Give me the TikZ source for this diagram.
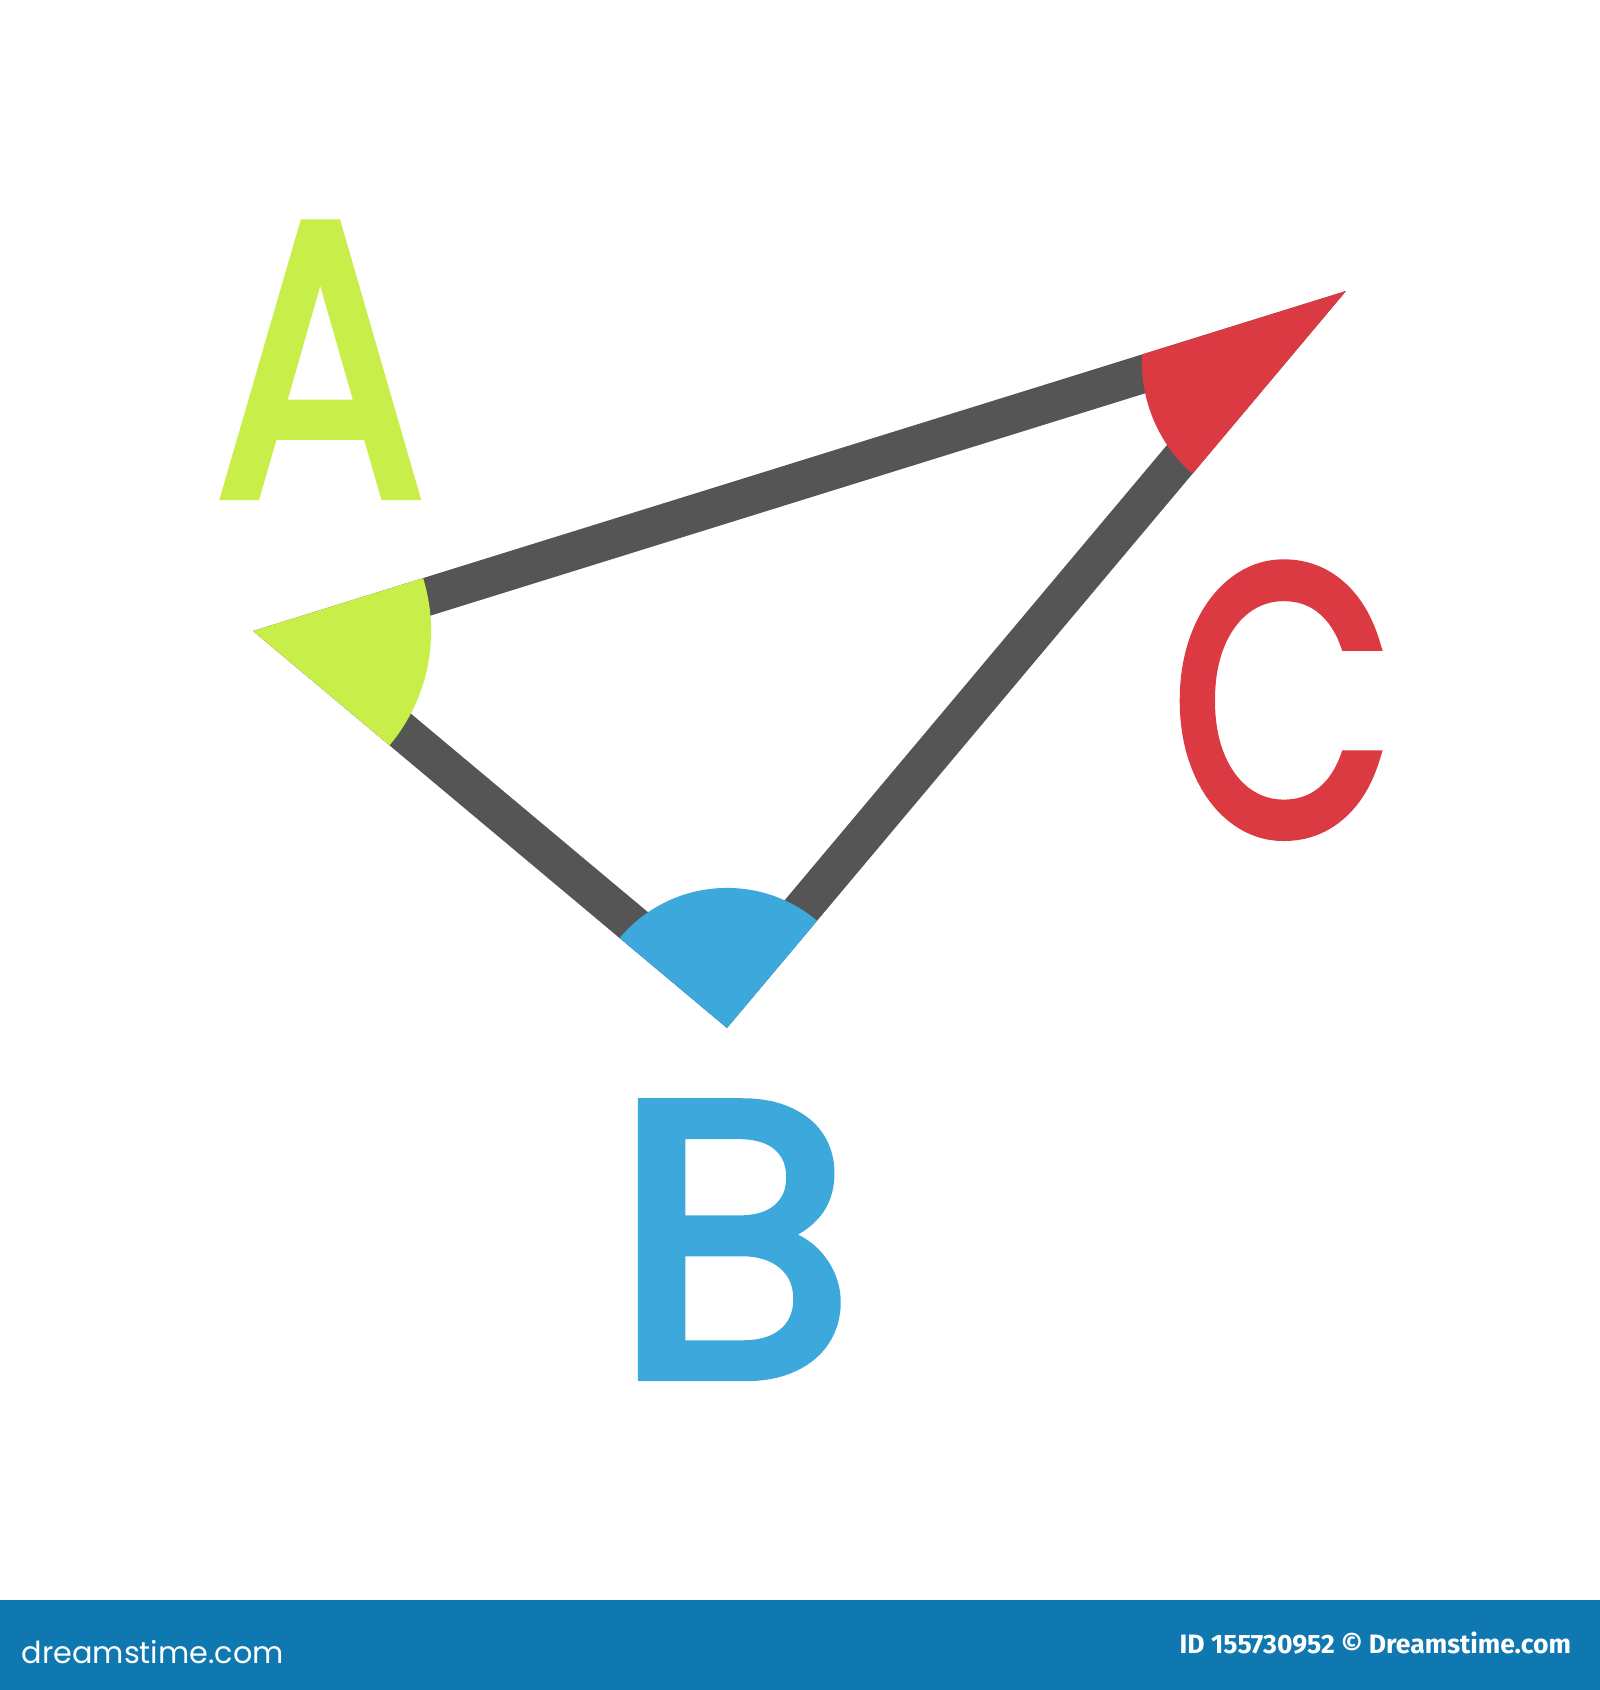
\documentclass[tikz,border=0pt]{standalone}
\usepackage{fontspec}
\usepackage{graphicx}
\setmainfont{Poppins}
\newfontfamily\letterfont{Poppins}[FakeBold=3]
\newfontfamily\idfont{Fira Sans}
\definecolor{limegreen}{RGB}{200,238,74}
\definecolor{anglered}{RGB}{220,58,66}
\definecolor{angleblue}{RGB}{60,168,220}
\definecolor{edgegray}{RGB}{85,85,85}
\definecolor{barblue}{RGB}{16,120,176}

\begin{document}
\begin{tikzpicture}
                \tikzset{x={(0.01cm, 0cm)}, y={(0cm, -0.01cm)}}
                \tikzset{letter/.style={inner sep=0, anchor=south west, font=\letterfont}}
                \useasboundingbox (0, 0) rectangle (1600, 1690);
                \coordinate (A) at ( 253,  631);
                \coordinate (B) at ( 727, 1028);
                \coordinate (C) at (1346,  291);
                \coordinate (Cmark) at (1291, 362);
                \begin{scope}
                    \clip (A) -- (B) -- (C) -- cycle;
                    \draw[line width=0.76cm, draw=edgegray] (A) -- (B) -- (C) -- cycle;
                    \fill[limegreen] (A) circle (1.78cm);
                    \fill[angleblue] (B) circle (1.40cm);
                    \fill[anglered] (Cmark) circle (1.49cm);
                \end{scope}
                \node[letter, text=limegreen] (labelA) at ( 215,  495) {\resizebox*{2.09cm}{2.69cm}{A}};
                \node[letter, text=angleblue] (labelB) at ( 613, 1376) {\resizebox*{2.40cm}{2.71cm}{B}};
                \node[letter, text=anglered]  (labelC) at (1171,  836) {\resizebox*{2.21cm}{2.70cm}{C}};
                \fill[barblue] (0, 1600) rectangle (1600, 1690);
                \node[inner sep=0, anchor=base west, text=white] (logo) at (21, 1663)
                    {\resizebox{2.62cm}{!}{dreamstime.com}};
                \node[inner sep=0, anchor=base west, text=white] (imageid) at (1179, 1653)
                    {\resizebox{3.91cm}{!}{\idfont\bfseries ID 155730952 \textcopyright{} Dreamstime.com}};
            \end{tikzpicture}
\end{document}
